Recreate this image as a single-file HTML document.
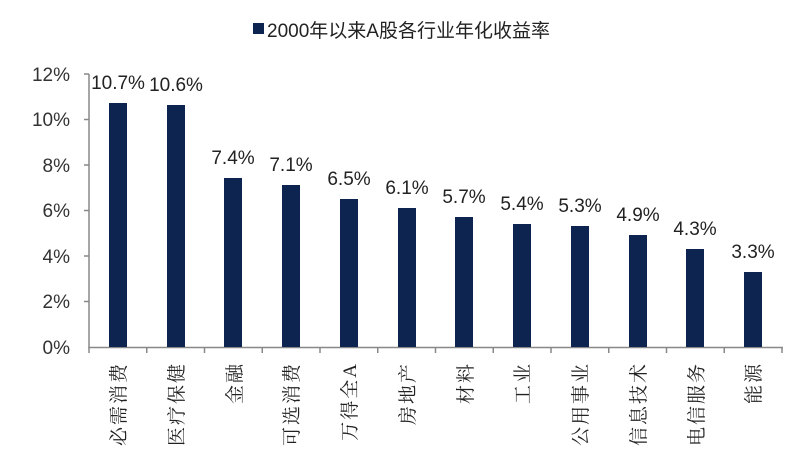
<!DOCTYPE html>
<html><head><meta charset="utf-8"><style>
body{margin:0;background:#fff;}
svg text{font-family:"Liberation Sans","Noto Sans CJK SC",sans-serif;}
.c{font-family:"Liberation Serif","Noto Serif CJK SC",serif;font-size:19px;fill:#222;letter-spacing:2px}
</style></head><body>
<svg width="788" height="451" xmlns="http://www.w3.org/2000/svg">
<rect x="253" y="23" width="11" height="11" fill="#0d2451"/>
<text x="267" y="37" font-size="19" fill="#222">2000年以来A股各行业年化收益率</text>
<g font-size="19" fill="#333" text-anchor="end">
<text x="70" y="81">12%</text><text x="70" y="126">10%</text><text x="70" y="172">8%</text>
<text x="70" y="217">6%</text><text x="70" y="263">4%</text><text x="70" y="308">2%</text><text x="70" y="354">0%</text>
</g>
<line x1="89" y1="74" x2="89" y2="348" stroke="#888" stroke-width="1.5"/>
<line x1="89" y1="347.5" x2="783" y2="347.5" stroke="#888" stroke-width="1.5"/>
<g stroke="#888" stroke-width="1.5">
<line x1="84" y1="74" x2="89" y2="74"/><line x1="84" y1="119.5" x2="89" y2="119.5"/><line x1="84" y1="165" x2="89" y2="165"/><line x1="84" y1="210.5" x2="89" y2="210.5"/><line x1="84" y1="256" x2="89" y2="256"/><line x1="84" y1="301.5" x2="89" y2="301.5"/>
<line x1="89" y1="347" x2="89" y2="353"/><line x1="146.75" y1="347" x2="146.75" y2="353"/><line x1="204.5" y1="347" x2="204.5" y2="353"/><line x1="262.25" y1="347" x2="262.25" y2="353"/><line x1="320" y1="347" x2="320" y2="353"/><line x1="377.75" y1="347" x2="377.75" y2="353"/><line x1="435.5" y1="347" x2="435.5" y2="353"/><line x1="493.25" y1="347" x2="493.25" y2="353"/><line x1="551" y1="347" x2="551" y2="353"/><line x1="608.75" y1="347" x2="608.75" y2="353"/><line x1="666.5" y1="347" x2="666.5" y2="353"/><line x1="724.25" y1="347" x2="724.25" y2="353"/><line x1="782" y1="347" x2="782" y2="353"/>
</g>
<g fill="#0d2451">
<rect x="109" y="103" width="18" height="244"/>
<rect x="167" y="105" width="18" height="242"/>
<rect x="224" y="178" width="18" height="169"/>
<rect x="282" y="185" width="18" height="162"/>
<rect x="340" y="199" width="18" height="148"/>
<rect x="398" y="208" width="18" height="139"/>
<rect x="455" y="217" width="18" height="130"/>
<rect x="513" y="224" width="18" height="123"/>
<rect x="571" y="226" width="18" height="121"/>
<rect x="629" y="235" width="18" height="112"/>
<rect x="686" y="249" width="18" height="98"/>
<rect x="744" y="272" width="18" height="75"/>
</g>
<g font-size="19" fill="#222" text-anchor="middle">
<text x="118" y="89">10.7%</text><text x="176" y="91">10.6%</text><text x="233" y="164">7.4%</text>
<text x="291" y="171">7.1%</text><text x="349" y="185">6.5%</text><text x="407" y="194">6.1%</text>
<text x="464" y="203">5.7%</text><text x="522" y="210">5.4%</text><text x="580" y="212">5.3%</text>
<text x="638" y="221">4.9%</text><text x="695" y="235">4.3%</text><text x="753" y="258">3.3%</text>
</g>
<g text-anchor="end">
<text class="c" transform="translate(125,362) rotate(-90)">必需消费</text>
<text class="c" transform="translate(183,362) rotate(-90)">医疗保健</text>
<text class="c" transform="translate(241,362) rotate(-90)">金融</text>
<text class="c" transform="translate(298,362) rotate(-90)">可选消费</text>
<text class="c" transform="translate(356,362) rotate(-90)">万得全A</text>
<text class="c" transform="translate(414,362) rotate(-90)">房地产</text>
<text class="c" transform="translate(472,362) rotate(-90)">材料</text>
<text class="c" transform="translate(529,362) rotate(-90)">工业</text>
<text class="c" transform="translate(587,362) rotate(-90)">公用事业</text>
<text class="c" transform="translate(645,362) rotate(-90)">信息技术</text>
<text class="c" transform="translate(703,362) rotate(-90)">电信服务</text>
<text class="c" transform="translate(760,362) rotate(-90)">能源</text>
</g>
</svg>
</body></html>
